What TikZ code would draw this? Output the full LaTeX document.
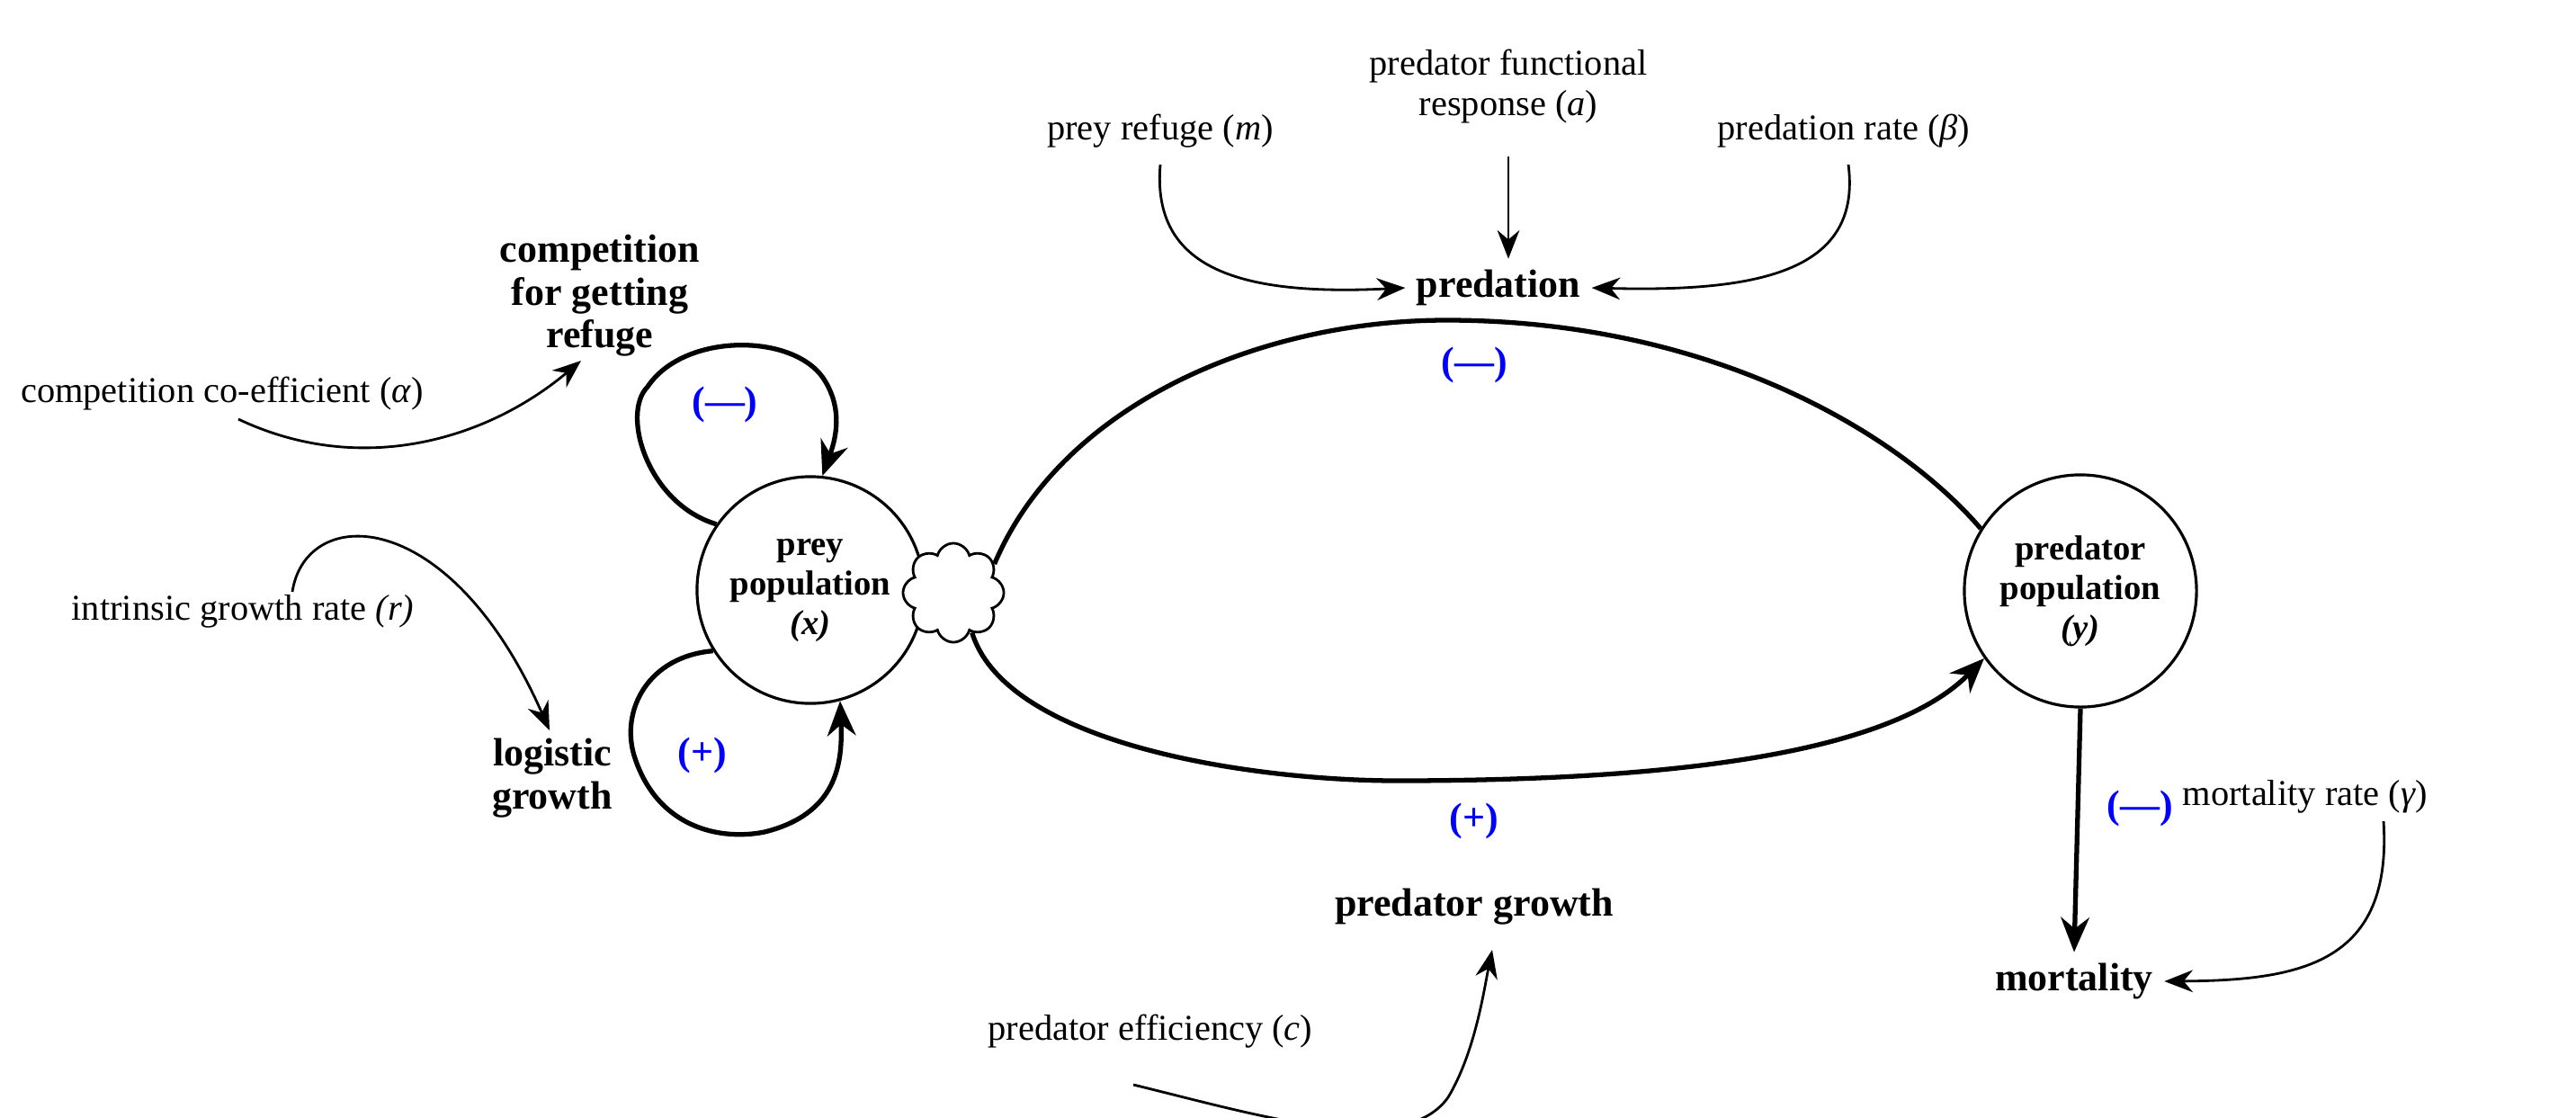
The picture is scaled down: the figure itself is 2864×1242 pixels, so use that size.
\documentclass[tikz,border=0pt]{standalone}
\usepackage{fontspec}
\setmainfont{Liberation Serif}
\usetikzlibrary{shapes.symbols,arrows.meta}
\begin{document}
\begin{tikzpicture}[x=0.01cm,y=-0.01cm,
 lab/.style={font=\fontsize{11.5}{13}\selectfont,align=center},
 blab/.style={font=\fontsize{12.5}{13.5}\selectfont\bfseries,align=center},
 sign/.style={font=\fontsize{12.5}{14}\selectfont\bfseries,text=blue},
 thin/.style={line width=0.8pt,-{Stealth[length=9pt,width=7pt]}},
 thick/.style={line width=1.5pt},
 thicka/.style={line width=1.5pt,-{Stealth[length=11pt,width=9pt]}}]
\useasboundingbox (0,0) rectangle (2864,1242);
\node[circle,draw,line width=0.9pt,minimum size=2.52cm,inner sep=0,align=center,font=\fontsize{11}{12.5}\selectfont\bfseries] (prey) at (901,656) {prey\\population\\\textit{(x)}};
\node[cloud,cloud puffs=8,draw,fill=white,line width=0.8pt,minimum width=1.12cm,minimum height=1.1cm,inner sep=0] (cl) at (1060,659) {};
\node[circle,draw,line width=0.9pt,minimum size=2.58cm,inner sep=0,align=center,font=\fontsize{11}{12.5}\selectfont\bfseries] (pred) at (2313,657) {predator\\population\\\textit{(y)}};
\node[lab] (pfr) at (1677,96) {predator functional\\response (\textit{a})};
\node[blab] (pn) at (1666,320) {predation};
\node[lab] (pr) at (1290,146) {prey refuge (\textit{m})};
\node[lab] (prate) at (2050,146) {predation rate (\textit{β})};
\node[blab] (comp) at (667,329) {competition\\for getting\\refuge};
\node[lab] (cc) at (247,438) {competition co-efficient (\textit{α})};
\node[lab] (igr) at (270,680) {intrinsic growth rate \textit{(r)}};
\node[blab] (lg) at (614,865) {logistic\\growth};
\node[blab] (pg) at (1639,1008) {predator growth};
\node[lab] (pe) at (1279,1147) {predator efficiency (\textit{c})};
\node[blab] (mort) at (2306,1091) {mortality};
\node[lab] (mr) at (2563,886) {mortality rate (\textit{γ})};
\node[sign] (s1) at (806,450) {(—)};
\node[sign] (s2) at (781,840) {(+)};
\node[sign] (s3) at (1639,406) {(—)};
\node[sign] (s4) at (1639,913) {(+)};
\node[sign] (s5) at (2379,899) {(—)};
\coordinate (pfrA) at (1677,174);
\coordinate (prA) at (1290,183);
\coordinate (prateA) at (2055,183);
\coordinate (ccA) at (265,466);
\coordinate (igrA) at (325,658);
\coordinate (peA) at (1260,1206);
\coordinate (mrA) at (2650,913);
\draw[thin] (pfrA) -- (pfrA |- pn.north);
\draw[thin] (prA) .. controls (1280,300) and (1380,329) .. (pn.west);
\draw[thin] (prateA) .. controls (2070,300) and (1960,325) .. (pn.east);
\draw[thin] (ccA) .. controls (400,530) and (540,490) .. (646,401);
\draw[thin] (igrA) .. controls (340,560) and (500,560) .. (611,812);
\draw[thin] (peA) .. controls (1400,1240) and (1560,1290) .. (1610,1220) .. controls (1640,1170) and (1650,1100) .. (1659,1056);
\draw[thin] (mrA) .. controls (2660,1070) and (2560,1090) .. (mort.east);
\draw[thicka] (prey.145) .. controls (720,560) and (690,460) .. (720,430) .. controls (760,370) and (880,370) .. (915,420) .. controls (935,450) and (932,480) .. (prey.84);
\draw[thicka] (prey.212) .. controls (720,730) and (690,790) .. (705,840) .. controls (730,920) and (800,935) .. (850,925) .. controls (930,905) and (937,850) .. (prey.-75);
\draw[thick] (cl.35) .. controls (1180,450) and (1400,356) .. (1608,356) .. controls (1900,356) and (2110,480) .. (pred.148);
\draw[thicka] (cl.-65) .. controls (1120,830) and (1400,868) .. (1553,868) .. controls (1850,868) and (2100,840) .. (pred.215);
\draw[thicka] (pred.south) -- (mort.north);
\end{tikzpicture}
\end{document}
